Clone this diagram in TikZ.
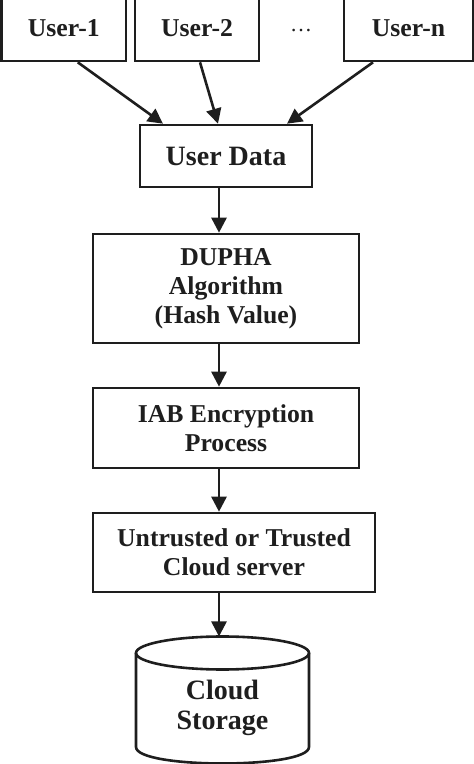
\documentclass[tikz,border=0pt]{standalone}
\usepackage{fontspec}
\setmainfont{Liberation Serif}
\usetikzlibrary{arrows.meta}
\definecolor{ink}{HTML}{1E1E1E}
\begin{document}
\begin{tikzpicture}[x=1pt,y=1pt,
  box/.style={draw=ink, line width=2.6pt, inner sep=0pt, align=center,
    text=ink, font=\bfseries\fontsize{25.7}{29}\selectfont},
  arr/.style={draw=ink, line width=2.6pt, -{Triangle[length=15pt,width=15pt]}}]
\useasboundingbox (0,0) rectangle (474,764);
\clip (0,0) rectangle (474,764);
\node[box, minimum width=124.5pt, minimum height=66pt] (u1) at (63.75,736) {User-1};
\node[box, minimum width=124pt, minimum height=66pt] (u2) at (197,736) {User-2};
\node[text=ink, font=\fontsize{22}{26}\selectfont] (dots) at (301,733) {\ldots};
\node[box, minimum width=129pt, minimum height=66pt] (un) at (408.5,736) {User-n};
\node[box, minimum width=172pt, minimum height=62pt, font=\bfseries\fontsize{28}{30}\selectfont] (ud) at (226,608) {User Data};
\node[box, minimum width=266pt, minimum height=109pt] (dupha) at (226,475.5) {DUPHA\\Algorithm\\(Hash Value)};
\node[box, minimum width=266pt, minimum height=80pt] (iab) at (226,336) {IAB Encryption\\Process};
\node[box, minimum width=282pt, minimum height=79pt] (srv) at (234,211.5) {Untrusted or Trusted\\Cloud server};
% cylinder
\draw[ink, line width=2.6pt] (136,111) -- (136,17)
  .. controls (136,-5) and (309,-5) .. (309,17) -- (309,111);
\draw[ink, line width=2.6pt] (222.5,111) ellipse [x radius=86.5, y radius=16.5];
\coordinate (cyltop) at (219,127.5);
\node[text=ink, align=center, font=\bfseries\fontsize{28}{30}\selectfont] (cs) at (222.5,56) {Cloud\\Storage};
% connectors
\draw[arr] ([xshift=14pt]u1.south) -- ([xshift=-63pt]ud.north);
\draw[arr] ([xshift=3pt]u2.south) -- ([xshift=-8pt]ud.north);
\draw[arr] ([xshift=-35.5pt]un.south) -- ([xshift=61pt]ud.north);
\draw[arr] ([xshift=-7pt]ud.south) -- ([xshift=-7pt]dupha.north);
\draw[arr] ([xshift=-7pt]dupha.south) -- ([xshift=-7pt]iab.north);
\draw[arr] ([xshift=-7pt]iab.south) -- ([xshift=-15pt]srv.north);
\draw[arr] ([xshift=-15pt]srv.south) -- (cyltop);
\end{tikzpicture}
\end{document}
